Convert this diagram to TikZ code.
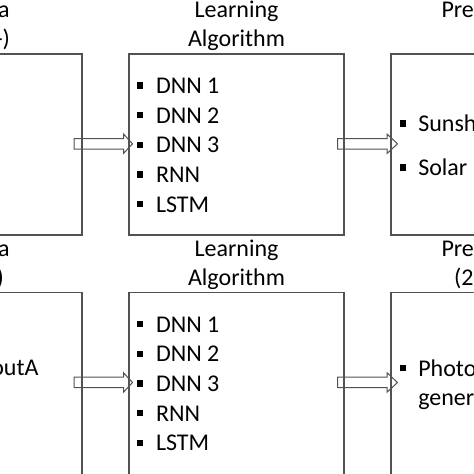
\documentclass[tikz,border=0pt]{standalone}
\usepackage{fontspec}
\setmainfont{Carlito}
\begin{document}
\begin{tikzpicture}[x=1pt,y=-1pt,
  box/.style={draw=black!68,line width=1.1pt,rectangle,inner sep=0pt,outer sep=0pt},
  txt/.style={inner sep=0pt,outer sep=0pt,font=\fontsize{24}{28.8}\selectfont,text=black},
  lbl/.style={txt,anchor=base},
  item/.style={txt,anchor=base west},
  bul/.style={fill=black,inner sep=0pt,minimum size=6.4pt,rectangle},
  arrowbox/.style={draw=black!68,fill=white,line width=1pt,line join=miter}]
\useasboundingbox (0,0) rectangle (474,474);
\clip (0,0) rectangle (474,474);
% arrows (drawn first, box lines show through)
\foreach \dy/\r in {0/1,238.7/2}{
  \draw[arrowbox] (74,138.5+\dy) -- (123.5,138.5+\dy) -- (123.5,134+\dy) -- (132.5,143.8+\dy) -- (123.5,153.5+\dy) -- (123.5,149+\dy) -- (74,149+\dy) -- cycle;
  \draw[arrowbox] (337.5,138.5+\dy) -- (387,138.5+\dy) -- (387,134+\dy) -- (397.5,143.8+\dy) -- (387,153.5+\dy) -- (387,149+\dy) -- (337.5,149+\dy) -- cycle;
}
% boxes
\node[box,minimum width=222pt,minimum height=181pt] (L1) at (-29,144.5) {};
\node[box,minimum width=215pt,minimum height=181pt] (M1) at (236.5,144.5) {};
\node[box,minimum width=215pt,minimum height=181pt] (R1) at (498.5,144.5) {};
\node[box,minimum width=222pt,minimum height=240pt] (L2) at (-29,412.7) {};
\node[box,minimum width=215pt,minimum height=240pt] (M2) at (236.5,412.7) {};
\node[box,minimum width=215pt,minimum height=240pt] (R2) at (498.5,412.7) {};
% labels top row
\node[txt,anchor=base east] (la1) at (9.5,17.3) {a};
\node[txt,anchor=base east] (lb1) at (10,46.3) {-)};
\node[lbl] (ma1) at (236.5,17.3) {Learning};
\node[lbl] (mb1) at (236.5,46.3) {Algorithm};
\node[txt,anchor=base west] (ra1) at (441.5,17.3) {Pre};
% labels bottom row
\node[txt,anchor=base east] (la2) at (9.5,256) {a};
\node[txt,anchor=base east,font=\fontsize{24}{28.8}\selectfont\bfseries] (lb2) at (3.5,285) {)};
\node[lbl] (ma2) at (236.5,256) {Learning};
\node[lbl] (mb2) at (236.5,285) {Algorithm};
\node[txt,anchor=base west] (ra2) at (441.5,256) {Pre};
\node[txt,anchor=base west] (rb2) at (454,285) {(2};
% middle lists
\foreach \dy/\r in {0/1,238.7/2}{
  \foreach \t/\b [count=\i] in {DNN 1/93.3,DNN 2/123,DNN 3/152.7,RNN/182.3,LSTM/212}{
    \node[bul] (b\r\i) at (140,\b-8+\dy) {};
    \node[item] (t\r\i) at (156,\b+\dy) {\t};
  }
}
% right lists
\node[bul] (rs1) at (402.8,123.5) {};
\node[item] (rt1) at (418.3,131.5) {Sunsh};
\node[bul] (rs2) at (402.8,167.3) {};
\node[item] (rt2) at (418.3,175.3) {Solar};
\node[bul] (rs3) at (402.8,368) {};
\node[item] (rt3) at (418.3,376.3) {Photo};
\node[item] (rt4) at (418.3,405.5) {gener};
% bottom-left text
\node[txt,anchor=base east] (lo2) at (38.5,375) {outA};
\end{tikzpicture}
\end{document}
